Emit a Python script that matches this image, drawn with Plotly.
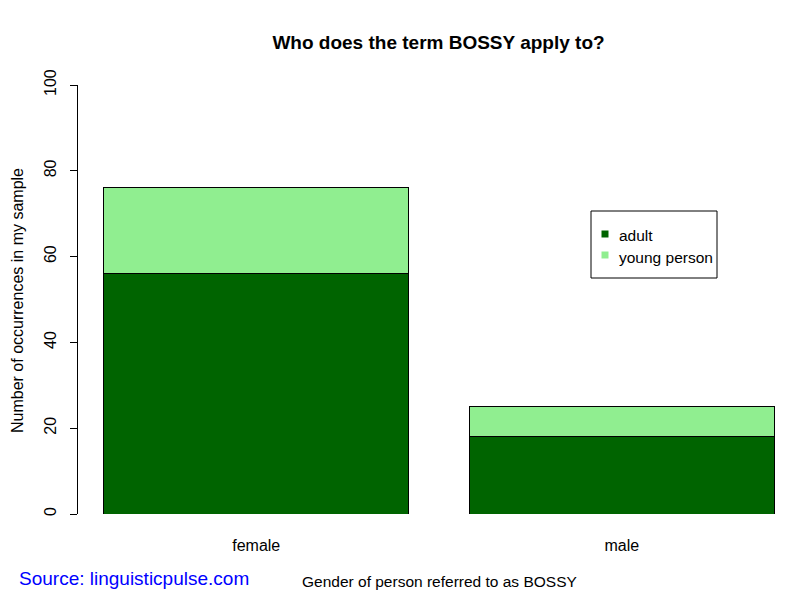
import plotly.graph_objects as go

# data
genders = ['female', 'male']
adult = [56, 18]
young_person = [20, 7]
series_names = ['adult', 'young person']

bar_pos = [0.7, 1.9]   # R barplot centres (width 1, space 0.2)
dark = '#006400'
light = '#90EE90'

# page is shifted 8px by the body margin, so figure coords = page coords - 8
PL, PT, PW, PH = 70, 77, 712, 429


def px(xp):
    return (xp - 8 - PL) / PW


def py(yp):
    return (PT + PH - (yp - 8)) / PH


fig = go.Figure()
fig.add_trace(go.Bar(x=bar_pos, y=adult, width=1, name=series_names[0],
                     marker=dict(color=dark, line=dict(color='black', width=1))))
fig.add_trace(go.Bar(x=bar_pos, y=young_person, width=1, name=series_names[1],
                     marker=dict(color=light, line=dict(color='black', width=1))))

fig.update_layout(
    barmode='stack',
    showlegend=False,
    width=790, height=612,
    margin=dict(l=PL, r=790 - PL - PW, t=PT, b=612 - PT - PH),
    plot_bgcolor='white', paper_bgcolor='white',
    font=dict(family='Liberation Sans, Arial', size=16, color='black'),
    title=dict(text='<b>Who does the term BOSSY apply to?</b>', x=(438.5 - 8) / 790, xanchor='center',
               y=1 - (42 - 8) / 612, yanchor='middle', font=dict(size=19)),
)

fig.update_xaxes(range=[0.115, 2.452], showline=False, showgrid=False, zeroline=False,
                 tickvals=bar_pos, ticktext=genders, ticks='', ticklabelstandoff=20,
                 tickfont=dict(size=16))
fig.update_yaxes(range=[0, 100], showline=True, linecolor='black', linewidth=1,
                 showgrid=False, zeroline=False, ticks='outside', ticklen=7, tickcolor='black',
                 tickvals=[0, 20, 40, 60, 80, 100], tickangle=-90, ticklabelstandoff=8,
                 tickfont=dict(size=16))

# R-style legend box
fig.add_shape(type='rect', xref='paper', yref='paper', x0=px(591), x1=px(717), y0=py(278), y1=py(211),
              line=dict(color='black', width=1), fillcolor='white')
for name, col, yc in zip(series_names, [dark, light], [234, 255]):
    fig.add_shape(type='rect', xref='paper', yref='paper', x0=px(601.5), x1=px(608.5),
                  y0=py(yc + 3.5), y1=py(yc - 3.5), line=dict(width=0), fillcolor=col)
    fig.add_annotation(text=name, xref='paper', yref='paper', x=px(617), y=py(yc + 2),
                       xanchor='left', yanchor='middle', showarrow=False, font=dict(size=15.5))

fig.add_annotation(text='Gender of person referred to as BOSSY', xref='paper', yref='paper',
                   x=px(439), y=py(581), xanchor='center', yanchor='middle',
                   showarrow=False, font=dict(size=15.5))
fig.add_annotation(text='Number of occurrences in my sample', xref='paper', yref='paper',
                   x=px(17), y=py(301), xanchor='center', yanchor='middle', textangle=-90,
                   showarrow=False, font=dict(size=16))
fig.add_annotation(text='Source: linguisticpulse.com', xref='paper', yref='paper',
                   x=px(17), y=py(578), xanchor='left', yanchor='middle',
                   showarrow=False, font=dict(size=19, color='#0000FF'))

fig.write_html('out.html')
